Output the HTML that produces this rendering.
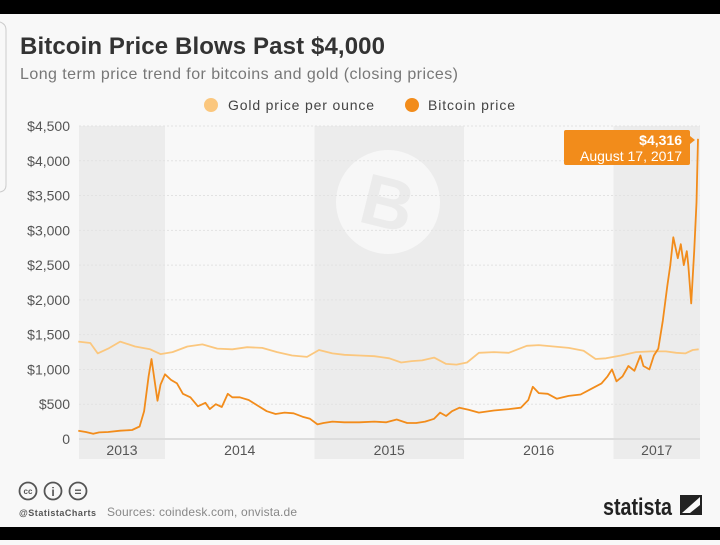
<!DOCTYPE html>
<html><head><meta charset="utf-8"><style>
body{margin:0;width:720px;height:540px;overflow:hidden;background:#f8f8f8;font-family:"Liberation Sans",sans-serif}
</style></head><body>
<svg id="c" width="720" height="540" xmlns="http://www.w3.org/2000/svg">
<rect x="0" y="0" width="720" height="540" fill="#f8f8f8"/>
<rect x="0" y="0" width="720" height="14" fill="#000"/>
<rect x="0" y="527" width="720" height="13" fill="#000"/>
<path d="M0,22 Q6,24 6,30 L6,185 Q6,191 0,192" fill="none" stroke="#ccc" stroke-width="1"/>
<text x="20" y="54" font-size="24" font-weight="bold" fill="#333" textLength="365">Bitcoin Price Blows Past $4,000</text>
<text x="20" y="79" font-size="16" fill="#777" textLength="438">Long term price trend for bitcoins and gold (closing prices)</text>
<g>
<circle cx="211" cy="105" r="7" fill="#fbc77e"/>
<text x="228" y="110" font-size="14" fill="#444" textLength="146">Gold price per ounce</text>
<circle cx="412" cy="105" r="7" fill="#f28c1b"/>
<text x="428" y="110" font-size="14" fill="#444" textLength="87">Bitcoin price</text>
</g>
<g id="bands"></g>
<g>
<circle cx="388" cy="202" r="52" fill="#f7f7f7"/>
<text x="388" y="228" font-size="72" font-weight="bold" fill="#ebebeb" text-anchor="middle" transform="rotate(14 388 202)">B</text>
</g>
<g id="grid"></g>
<g id="series"></g>
<g>
<rect x="564" y="130" width="126" height="35" rx="2" fill="#f28c1b"/>
<path d="M690,136 L695,140 L690,144 Z" fill="#f28c1b"/>
<text x="682" y="145" font-size="14" font-weight="bold" fill="#fff" text-anchor="end">$4,316</text>
<text x="682" y="161" font-size="14" fill="#fff" text-anchor="end">August 17, 2017</text>
</g>
<g>
<circle cx="28" cy="491" r="8.5" fill="none" stroke="#555" stroke-width="1.8"/><text x="28" y="494" font-size="8" font-weight="bold" text-anchor="middle" fill="#555">cc</text>
<circle cx="53" cy="491" r="8.5" fill="none" stroke="#555" stroke-width="1.8"/><text x="53" y="496" font-size="12" font-weight="bold" text-anchor="middle" fill="#555">i</text>
<circle cx="78" cy="491" r="8.5" fill="none" stroke="#555" stroke-width="1.8"/><text x="78" y="496" font-size="12" font-weight="bold" text-anchor="middle" fill="#555">=</text>
<text x="19" y="516" font-size="9" font-weight="bold" fill="#555" textLength="77">@StatistaCharts</text>
<text x="107" y="516" font-size="12" fill="#888" textLength="190">Sources: coindesk.com, onvista.de</text>
<text x="603" y="515" font-size="24" font-weight="bold" fill="#222" textLength="69" lengthAdjust="spacingAndGlyphs">statista</text>
<rect x="680" y="495" width="22" height="20" fill="#222"/><path d="M682,513 L700,497 L700,505 L690,513 Z" fill="#f8f8f8"/>
</g>
</svg>
<script>
const yTicks=[0,500,1000,1500,2000,2500,3000,3500,4000,4500];
const yTickLabels=["0","$500","$1,000","$1,500","$2,000","$2,500","$3,000","$3,500","$4,000","$4,500"];
const years=[2013,2014,2015,2016,2017];
const btcDates=[2013.42,2013.47,2013.52,2013.56,2013.62,2013.7,2013.78,2013.83,2013.86,2013.89,2013.91,2013.93,2013.95,2013.97,2014.0,2014.04,2014.08,2014.12,2014.17,2014.22,2014.27,2014.3,2014.34,2014.38,2014.42,2014.45,2014.5,2014.56,2014.62,2014.68,2014.74,2014.8,2014.86,2014.92,2014.97,2015.02,2015.06,2015.12,2015.2,2015.3,2015.4,2015.48,2015.55,2015.62,2015.68,2015.74,2015.8,2015.84,2015.88,2015.92,2015.97,2016.03,2016.1,2016.2,2016.3,2016.38,2016.43,2016.46,2016.5,2016.56,2016.62,2016.7,2016.78,2016.85,2016.92,2016.96,2016.99,2017.02,2017.06,2017.1,2017.14,2017.18,2017.2,2017.24,2017.27,2017.3,2017.33,2017.36,2017.38,2017.4,2017.43,2017.45,2017.47,2017.49,2017.5,2017.52,2017.54,2017.555,2017.565];
const btcPrices=[120,100,75,95,100,120,130,180,400,900,1150,850,550,780,930,850,800,650,600,470,520,430,500,460,650,600,600,560,480,400,360,380,370,320,290,210,230,250,240,240,250,240,280,230,230,250,290,380,330,400,450,420,380,410,430,450,560,750,660,650,580,620,640,720,800,900,1000,830,900,1050,980,1200,1050,1000,1200,1300,1700,2200,2500,2900,2600,2800,2500,2700,2500,1950,2700,3400,4316];
const goldDates=[2013.42,2013.5,2013.55,2013.62,2013.7,2013.8,2013.9,2013.97,2014.05,2014.15,2014.25,2014.35,2014.45,2014.55,2014.65,2014.75,2014.85,2014.95,2015.03,2015.12,2015.2,2015.3,2015.4,2015.5,2015.58,2015.65,2015.72,2015.8,2015.88,2015.95,2016.02,2016.1,2016.2,2016.3,2016.42,2016.5,2016.6,2016.7,2016.8,2016.88,2016.95,2017.05,2017.15,2017.25,2017.35,2017.42,2017.48,2017.53,2017.57];
const goldPrices=[1400,1380,1230,1300,1400,1330,1290,1220,1250,1330,1360,1300,1290,1320,1310,1250,1200,1180,1280,1230,1210,1200,1190,1160,1100,1120,1130,1170,1080,1070,1100,1240,1250,1240,1340,1350,1330,1310,1270,1150,1160,1200,1250,1260,1260,1240,1230,1280,1290];
const X0=79,X1=700,Y0=439,YT=126;
const x=t=>165+(t-2014)*149.5;
const y=v=>Y0-(v/4500)*(Y0-YT);
const NS="http://www.w3.org/2000/svg";
function mk(tag,attrs,parent){const e=document.createElementNS(NS,tag);for(const k in attrs)e.setAttribute(k,attrs[k]);parent.appendChild(e);return e;}
const bands=document.getElementById('bands'),grid=document.getElementById('grid'),series=document.getElementById('series');
years.forEach((yr,i)=>{
  const a=Math.max(X0,x(yr)),b=Math.min(X1,x(yr+1));
  if(i%2===0){const r=mk('rect',{x:a,y:YT,width:b-a,height:459-YT,fill:'#ececec'},bands);
    
    }
  const t=mk('text',{x:(a+b)/2,y:455,'font-size':14,fill:'#555','text-anchor':'middle'},grid);
  t.textContent=yr;
  
  
});
yTicks.forEach((v,i)=>{
  const l=mk('line',{x1:X0,x2:X1,y1:y(v),y2:y(v),stroke:v===0?'#ddd':'#e2e2e2','stroke-width':v===0?2:1,'stroke-dasharray':v===0?'':'2,2'},grid);
  
  
  const t=mk('text',{x:70,y:y(v)+5,'font-size':14,fill:'#555','text-anchor':'end'},grid);
  t.textContent=yTickLabels[i];
  
  
});
function line(ds,vs,color,name){
  const d=ds.map((t,i)=>(i?'L':'M')+x(t).toFixed(1)+','+y(vs[i]).toFixed(1)).join(' ');
  const p=mk('path',{d:d,fill:'none',stroke:color,'stroke-width':1.8,'stroke-linejoin':'round'},series);
  
  
}
line(goldDates,goldPrices,'#fbc77e','gold-line');
line(btcDates,btcPrices,'#f28c1b','bitcoin-line');
</script>
</body></html>
